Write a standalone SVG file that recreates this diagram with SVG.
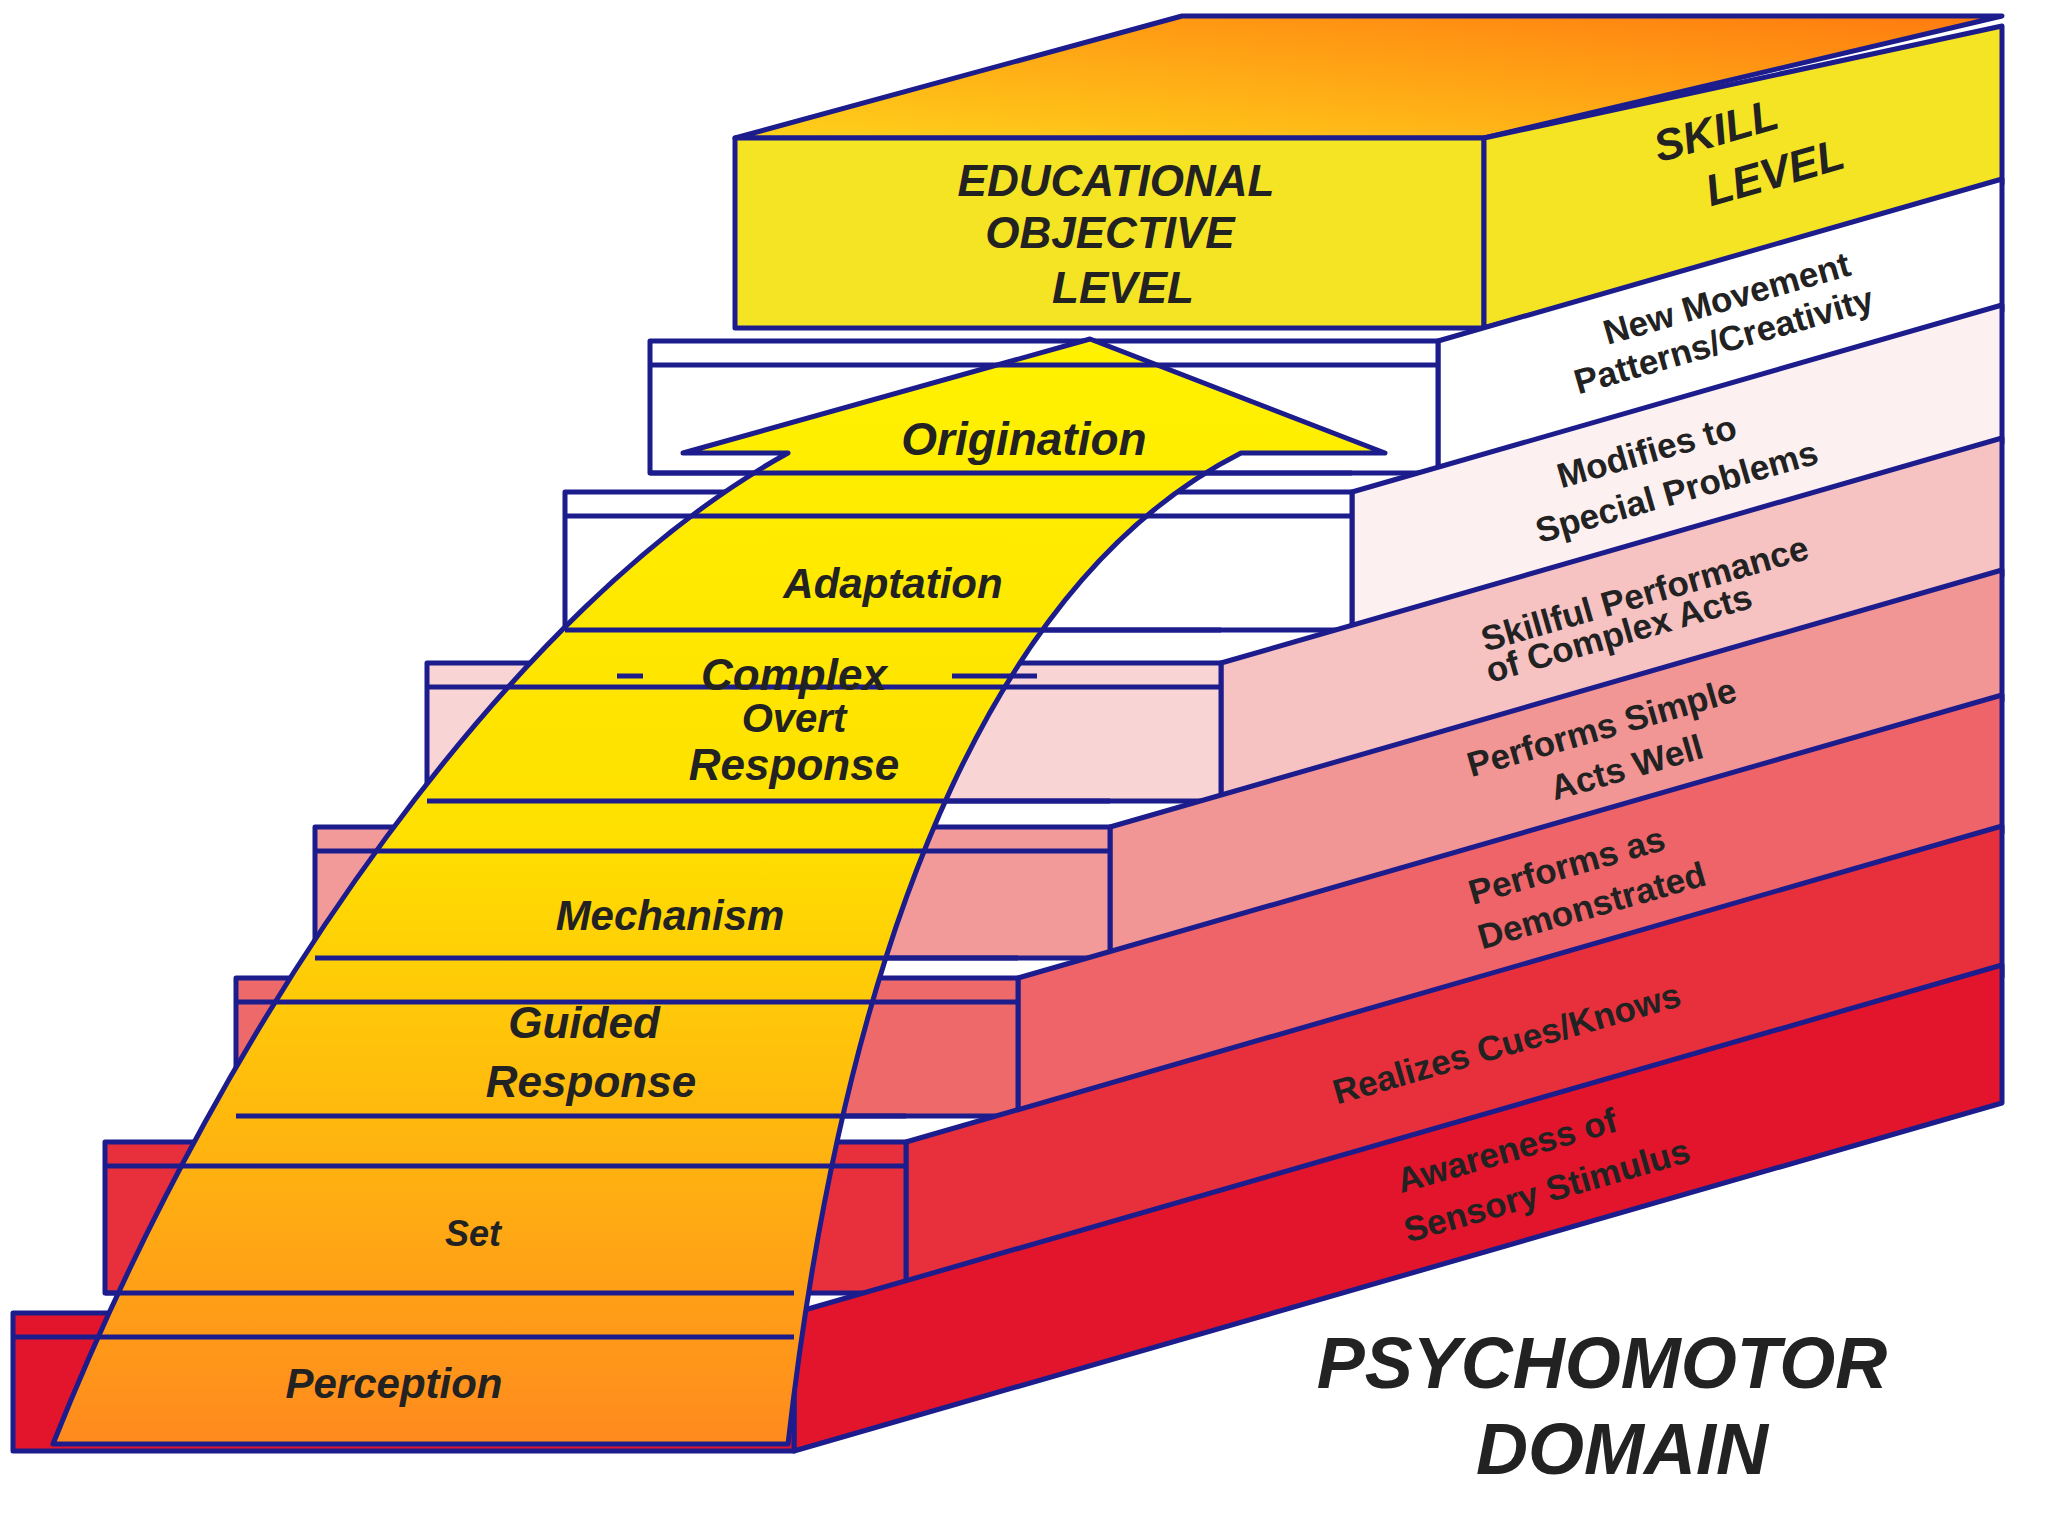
<svg xmlns="http://www.w3.org/2000/svg" width="2048" height="1536" viewBox="0 0 2048 1536">
<defs>
<linearGradient id="arrowG" x1="0" y1="0" x2="0" y2="1"><stop offset="0" stop-color="#fff200"/><stop offset="0.45" stop-color="#ffe000"/><stop offset="1" stop-color="#ff8a1e"/></linearGradient>
<linearGradient id="topG" x1="0" y1="1" x2="1" y2="0"><stop offset="0" stop-color="#ffd21a"/><stop offset="1" stop-color="#ff7a10"/></linearGradient>
<style>
.e{stroke:#1c1c8c;stroke-width:5;stroke-linejoin:round}
.l{stroke:#1c1c8c;stroke-width:5;fill:none}
.f{font-family:"Liberation Sans",Arial,sans-serif;font-weight:bold;font-style:italic;fill:#222;text-anchor:middle}
.s{font-family:"Liberation Sans",Arial,sans-serif;font-weight:bold;fill:#222;font-size:35px;text-anchor:middle}
</style>
</defs>
<rect width="2048" height="1536" fill="#fff"/>
<g id="top-box">
<polygon class="e" points="735,138 1182,16 2002,16 1484,138" fill="url(#topG)"/>
<rect class="e" x="735" y="138" width="749" height="190" fill="#f5e424"/>
<polygon class="e" points="1484,138 2002,26 2002,184 1484,328" fill="#f5e424"/>
<text class="f" x="1116" y="196" font-size="44">EDUCATIONAL</text>
<text class="f" x="1110" y="248" font-size="44">OBJECTIVE</text>
<text class="f" x="1123" y="303" font-size="44">LEVEL</text>
<text class="f" font-size="44" transform="translate(1720,145) rotate(-16)">SKILL</text>
<text class="f" font-size="44" transform="translate(1779,187) rotate(-16)">LEVEL</text>
</g>
<g id="origination">
<polygon class="e" points="1438,341 2002,179 2002,311 1438,473" fill="#ffffff"/>
<rect class="e" x="650" y="341" width="788" height="132" fill="#ffffff"/>
</g>
<g id="adaptation">
<polygon class="e" points="1352,492 2002,305 2002,443 1352,630" fill="#fdf0f0"/>
<rect class="e" x="565" y="492" width="787" height="138" fill="#ffffff"/>
</g>
<g id="complex">
<polygon class="e" points="1221,663 2002,438 2002,576 1221,801" fill="#f6c2c2"/>
<rect class="e" x="427" y="663" width="794" height="138" fill="#f8d4d4"/>
</g>
<g id="mechanism">
<polygon class="e" points="1110,827 2002,570 2002,701 1110,958" fill="#f29595"/>
<rect class="e" x="315" y="827" width="795" height="131" fill="#f29a9a"/>
</g>
<g id="guided">
<polygon class="e" points="1018,978 2002,695 2002,833 1018,1116" fill="#ef6468"/>
<rect class="e" x="236" y="978" width="782" height="138" fill="#ee6a6a"/>
</g>
<g id="set">
<polygon class="e" points="906,1142 2002,826 2002,977 906,1293" fill="#e8303d"/>
<rect class="e" x="105" y="1142" width="801" height="151" fill="#e8303d"/>
</g>
<g id="perception">
<polygon class="e" points="794,1313 2002,965 2002,1103 794,1451" fill="#e2152c"/>
<rect class="e" x="13" y="1313" width="781" height="138" fill="#e2152c"/>
</g>
<g id="arrow">
<path class="e" d="M53,1444 C230,1000 520,600 788,453 L683,453 L1090,339 L1385,453 L1241,453 C1010,570 850,900 788,1444 Z" fill="url(#arrowG)"/>
</g>
<g id="connectors">
<path class="l" d="M650,365 H1438 M565,516 H1352 M427,687 H1221 M315,851 H1110 M236,1002 H1018 M105,1166 H906 M13,1337 H794 M105,1293 H794 M236,1116 H906 M315,958 H1018 M427,801 H1110 M565,630 H1221 M650,473 H1352 M617,676 H643 M952,676 H1037"/>
</g>
<g id="labels">
<text class="f" x="1024" y="455" font-size="46">Origination</text>
<text class="f" x="893" y="598" font-size="42">Adaptation</text>
<text class="f" x="794" y="690" font-size="44">Complex</text>
<text class="f" x="794" y="732" font-size="40">Overt</text>
<text class="f" x="794" y="780" font-size="44">Response</text>
<text class="f" x="670" y="930" font-size="42">Mechanism</text>
<text class="f" x="584" y="1038" font-size="44">Guided</text>
<text class="f" x="591" y="1097" font-size="44">Response</text>
<text class="f" x="473" y="1246" font-size="36">Set</text>
<text class="f" x="394" y="1398" font-size="42">Perception</text>
<text class="s" transform="translate(1730,310) rotate(-16)">New Movement</text>
<text class="s" transform="translate(1727,352) rotate(-16)">Patterns/Creativity</text>
<text class="s" transform="translate(1650,463) rotate(-16)">Modifies to</text>
<text class="s" transform="translate(1680,503) rotate(-16)">Special Problems</text>
<text class="s" transform="translate(1648,605) rotate(-16)">Skillful Performance</text>
<text class="s" transform="translate(1622,645) rotate(-16)">of Complex Acts</text>
<text class="s" transform="translate(1605,739) rotate(-16)">Performs Simple</text>
<text class="s" transform="translate(1630,779) rotate(-16)">Acts Well</text>
<text class="s" transform="translate(1570,877) rotate(-16)">Performs as</text>
<text class="s" transform="translate(1595,917) rotate(-16)">Demonstrated</text>
<text class="s" transform="translate(1510,1055) rotate(-16)">Realizes Cues/Knows</text>
<text class="s" transform="translate(1510,1162) rotate(-16)">Awareness of</text>
<text class="s" transform="translate(1550,1202) rotate(-16)">Sensory Stimulus</text>
<text class="f" x="1602" y="1388" font-size="72">PSYCHOMOTOR</text>
<text class="f" x="1622" y="1474" font-size="72">DOMAIN</text>
</g>
</svg>
